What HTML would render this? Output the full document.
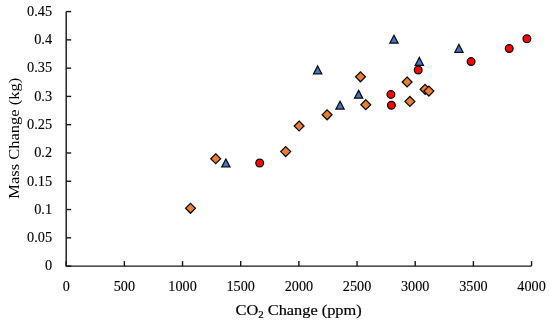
<!DOCTYPE html>
<html><head><meta charset="utf-8"><title>Chart</title>
<style>
html,body{margin:0;padding:0;background:#fff;}
svg{display:block;}
text{font-family:"Liberation Serif","DejaVu Serif",serif;fill:#000;}
.t{font-size:13.8px;stroke:#000;stroke-width:0.12px;}
.a{font-size:15px;stroke:#000;stroke-width:0.2px;}
</style></head><body>
<svg width="550" height="327" viewBox="0 0 550 327">
<rect width="550" height="327" fill="#fff"/>

<g stroke="#161616" stroke-width="1.4" fill="none">
<path d="M66.20 11.58V266.10H531.56"/>
<path d="M66.20 266.10h5"/>
<path d="M66.20 237.82h5"/>
<path d="M66.20 209.54h5"/>
<path d="M66.20 181.26h5"/>
<path d="M66.20 152.98h5"/>
<path d="M66.20 124.70h5"/>
<path d="M66.20 96.42h5"/>
<path d="M66.20 68.14h5"/>
<path d="M66.20 39.86h5"/>
<path d="M66.20 11.58h5"/>
<path d="M66.20 266.10v-5"/>
<path d="M124.37 266.10v-5"/>
<path d="M182.54 266.10v-5"/>
<path d="M240.71 266.10v-5"/>
<path d="M298.88 266.10v-5"/>
<path d="M357.05 266.10v-5"/>
<path d="M415.22 266.10v-5"/>
<path d="M473.39 266.10v-5"/>
<path d="M531.56 266.10v-5"/>
</g>
<g class="t" text-anchor="end">
<text transform="translate(52.1,270.40) scale(1.04,1)">0</text>
<text transform="translate(52.1,242.12) scale(1.04,1)">0.05</text>
<text transform="translate(52.1,213.84) scale(1.04,1)">0.1</text>
<text transform="translate(52.1,185.56) scale(1.04,1)">0.15</text>
<text transform="translate(52.1,157.28) scale(1.04,1)">0.2</text>
<text transform="translate(52.1,129.00) scale(1.04,1)">0.25</text>
<text transform="translate(52.1,100.72) scale(1.04,1)">0.3</text>
<text transform="translate(52.1,72.44) scale(1.04,1)">0.35</text>
<text transform="translate(52.1,44.16) scale(1.04,1)">0.4</text>
<text transform="translate(52.1,15.88) scale(1.04,1)">0.45</text>
</g>
<g class="t" text-anchor="middle">
<text transform="translate(66.20,291) scale(1.03,1)">0</text>
<text transform="translate(124.37,291) scale(1.03,1)">500</text>
<text transform="translate(182.54,291) scale(1.03,1)">1000</text>
<text transform="translate(240.71,291) scale(1.03,1)">1500</text>
<text transform="translate(298.88,291) scale(1.03,1)">2000</text>
<text transform="translate(357.05,291) scale(1.03,1)">2500</text>
<text transform="translate(415.22,291) scale(1.03,1)">3000</text>
<text transform="translate(473.39,291) scale(1.03,1)">3500</text>
<text transform="translate(531.56,291) scale(1.03,1)">4000</text>
</g>
<text class="a" text-anchor="middle" transform="translate(298.6,315) scale(1.09,1)">CO<tspan font-size="10px" dy="3">2</tspan><tspan dy="-3"> Change (ppm)</tspan></text>
<text class="a" style="stroke:none" text-anchor="middle" transform="translate(19.3,138.3) rotate(-90) scale(1.1,1)">Mass Change (kg)</text>
<g stroke="#0a0a0a" stroke-width="1.25" stroke-linejoin="miter">
<circle fill="#FF0000" cx="259.70" cy="163.00" r="3.88"/>
<circle fill="#FF0000" cx="390.90" cy="94.40" r="3.88"/>
<circle fill="#FF0000" cx="391.40" cy="105.20" r="3.88"/>
<circle fill="#FF0000" cx="418.20" cy="70.00" r="3.88"/>
<circle fill="#FF0000" cx="471.10" cy="61.60" r="3.88"/>
<circle fill="#FF0000" cx="509.20" cy="48.50" r="3.88"/>
<circle fill="#FF0000" cx="526.90" cy="38.80" r="3.88"/>
<path fill="#4472C4" d="M225.85 159.05L229.95 166.85L221.75 166.85Z"/>
<path fill="#4472C4" d="M317.65 65.95L321.75 73.75L313.55 73.75Z"/>
<path fill="#4472C4" d="M340.05 101.25L344.15 109.05L335.95 109.05Z"/>
<path fill="#4472C4" d="M358.65 90.35L362.75 98.15L354.55 98.15Z"/>
<path fill="#4472C4" d="M393.95 35.25L398.05 43.05L389.85 43.05Z"/>
<path fill="#4472C4" d="M419.35 57.45L423.45 65.25L415.25 65.25Z"/>
<path fill="#4472C4" d="M458.95 44.45L463.05 52.25L454.85 52.25Z"/>
<path fill="#ED7D31" d="M190.50 203.35L195.45 208.30L190.50 213.25L185.55 208.30Z"/>
<path fill="#ED7D31" d="M215.70 153.80L220.65 158.75L215.70 163.70L210.75 158.75Z"/>
<path fill="#ED7D31" d="M285.70 146.65L290.65 151.60L285.70 156.55L280.75 151.60Z"/>
<path fill="#ED7D31" d="M299.10 121.05L304.05 126.00L299.10 130.95L294.15 126.00Z"/>
<path fill="#ED7D31" d="M327.10 109.85L332.05 114.80L327.10 119.75L322.15 114.80Z"/>
<path fill="#ED7D31" d="M360.50 71.85L365.45 76.80L360.50 81.75L355.55 76.80Z"/>
<path fill="#ED7D31" d="M365.80 99.75L370.75 104.70L365.80 109.65L360.85 104.70Z"/>
<path fill="#ED7D31" d="M407.10 77.05L412.05 82.00L407.10 86.95L402.15 82.00Z"/>
<path fill="#ED7D31" d="M409.90 96.45L414.85 101.40L409.90 106.35L404.95 101.40Z"/>
<path fill="#ED7D31" d="M425.10 84.35L430.05 89.30L425.10 94.25L420.15 89.30Z"/>
<path fill="#ED7D31" d="M428.90 86.15L433.85 91.10L428.90 96.05L423.95 91.10Z"/>
</g>
</svg></body></html>
